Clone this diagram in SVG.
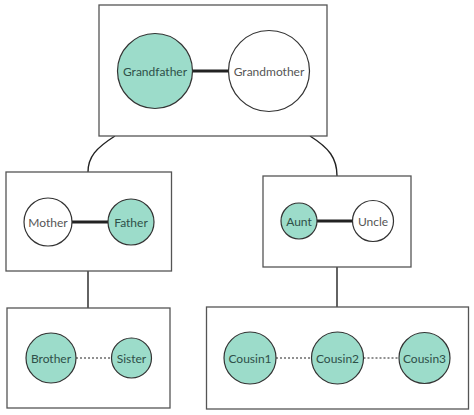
<svg xmlns="http://www.w3.org/2000/svg" width="474" height="415" viewBox="0 0 474 415">
<style>
.box{fill:#fff;stroke:#555;stroke-width:1.3}
.f{fill:#9cdcca;stroke:#333;stroke-width:1.2}
.m{fill:#fff;stroke:#333;stroke-width:1.2}
.t{font-family:Lato,"Open Sans",sans-serif;font-size:12px;text-anchor:middle;dominant-baseline:central}
.tf{fill:#2e4f48}
.tm{fill:#555}
.mar{stroke:#222;stroke-width:3;fill:none}
.sib{stroke:#222;stroke-width:1.2;stroke-dasharray:2 2;fill:none}
.lnk{stroke:#222;stroke-width:1.4;fill:none}
</style>
<rect width="474" height="415" fill="#fff"/>
<g id="connectors">
<path class="lnk" d="M115,136 C96,148 88,157 88,172"/>
<path class="lnk" d="M310,136 C329,148 337,158 337,176"/>
<path class="lnk" d="M88,271 L88,308"/>
<path class="lnk" d="M337,267 L337,307"/>
</g>
<g id="family-grandparents">
<rect class="box" x="99" y="5" width="228" height="131"/>
<line class="mar" x1="191" y1="71" x2="229" y2="71"/>
<g id="grandfather"><circle class="f" cx="155" cy="71" r="37.5"/><text class="t tf" x="155" y="71">Grandfather</text></g>
<g id="grandmother"><circle class="m" cx="269" cy="71" r="40.5"/><text class="t tm" x="269" y="71">Grandmother</text></g>
</g>
<g id="family-parents">
<rect class="box" x="6" y="172" width="165.5" height="99"/>
<line class="mar" x1="71" y1="222" x2="108" y2="222"/>
<g id="mother"><circle class="m" cx="48" cy="222" r="24"/><text class="t tm" x="48" y="222">Mother</text></g>
<g id="father"><circle class="f" cx="131" cy="222" r="23"/><text class="t tf" x="131" y="222">Father</text></g>
</g>
<g id="family-aunt-uncle">
<rect class="box" x="263" y="176" width="148" height="91"/>
<line class="mar" x1="317" y1="221" x2="353" y2="221"/>
<g id="aunt"><circle class="f" cx="299" cy="221" r="18"/><text class="t tf" x="299" y="221">Aunt</text></g>
<g id="uncle"><circle class="m" cx="373" cy="221" r="20.5"/><text class="t tm" x="373" y="221">Uncle</text></g>
</g>
<g id="siblings">
<rect class="box" x="7" y="308" width="163" height="100"/>
<line class="sib" x1="76" y1="358" x2="111" y2="358"/>
<g id="brother"><circle class="f" cx="51" cy="358" r="25"/><text class="t tf" x="51" y="358">Brother</text></g>
<g id="sister"><circle class="f" cx="131.5" cy="358" r="20"/><text class="t tf" x="131.5" y="358">Sister</text></g>
</g>
<g id="cousins">
<rect class="box" x="206.5" y="307" width="262" height="102"/>
<line class="sib" x1="276" y1="358" x2="311" y2="358"/>
<line class="sib" x1="363.5" y1="358" x2="399" y2="358"/>
<g id="cousin1"><circle class="f" cx="250" cy="358" r="26"/><text class="t tf" x="250" y="358">Cousin1</text></g>
<g id="cousin2"><circle class="f" cx="337.5" cy="358" r="26"/><text class="t tf" x="337.5" y="358">Cousin2</text></g>
<g id="cousin3"><circle class="f" cx="424.5" cy="358" r="25.5"/><text class="t tf" x="424.5" y="358">Cousin3</text></g>
</g>
</svg>
